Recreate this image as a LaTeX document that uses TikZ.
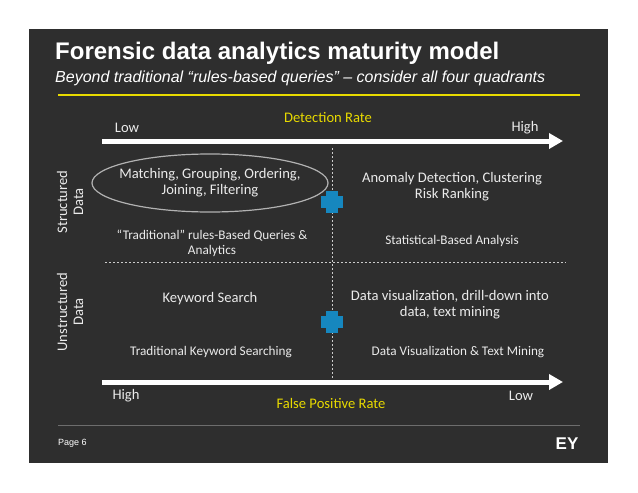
\documentclass[tikz,border=0pt]{standalone}
\usepackage{fontspec}
\setmainfont{Carlito}
\newfontfamily\arial{Liberation Sans}
\usetikzlibrary{arrows.meta}
\definecolor{slide}{HTML}{2E2E2E}
\definecolor{ey}{HTML}{E8DA00}
\definecolor{plusblue}{HTML}{1687BF}
\tikzset{
 body/.style={text=white!92!black,font=\fontsize{14.6}{16}\selectfont,align=center,inner sep=0},
 small/.style={body,font=\fontsize{13.2}{15}\selectfont},
 axis/.style={white,line width=5pt,-{Triangle[length=14pt,width=15pt]}},
}
\begin{document}
\begin{tikzpicture}[x=1pt,y=-1pt]
\useasboundingbox (0,0) rectangle (638,493);
\fill[white] (0,0) rectangle (638,493);
\fill[slide] (29,29) rectangle (608,463);
\node[anchor=west,text=white,font=\arial\bfseries\fontsize{24}{26}\selectfont,inner sep=0] (title) at (55,53) {Forensic data analytics maturity model};
\node[anchor=west,text=white,font=\arial\itshape\fontsize{16}{18}\selectfont,inner sep=0] (sub) at (55,78) {Beyond traditional “rules-based queries” – consider all four quadrants};
\draw[ey,line width=1.5pt] (58,95) -- (580,95);
\node[body,text=ey] (dr) at (328,118) {Detection Rate};
\node[body] (lo1) at (127,128) {Low};
\node[body] (hi1) at (525,128) {High};
\coordinate (a1s) at (102,141); \coordinate (a1e) at (563,141);
\draw[axis] (a1s) -- (a1e);
\coordinate (vt) at (332,148); \coordinate (vb) at (332,378);
\draw[white!80!black,dash pattern=on 2pt off 2pt,line width=0.6pt] (vt) -- (vb);
\coordinate (hl) at (105,262); \coordinate (hr) at (566,262);
\draw[white!80!black,dash pattern=on 2pt off 2pt,line width=0.6pt] (hl) -- (hr);
\draw[white!70!black,line width=1.2pt] (210,183) ellipse [x radius=118, y radius=29];
\node[body] (m) at (210,183) {Matching, Grouping, Ordering,\\Joining, Filtering};
\node[body] (an) at (452,187) {Anomaly Detection, Clustering\\Risk Ranking};
\node[small] (tr) at (212,243) {“Traditional” rules-Based Queries \&\\Analytics};
\node[small] (st) at (452,241) {Statistical-Based Analysis};
\node[body] (kw) at (210,299) {Keyword Search};
\node[body] (dv) at (450,305) {Data visualization, drill-down into\\data, text mining};
\node[small] (tk) at (211,352) {Traditional Keyword Searching};
\node[small] (dvt) at (458,352) {Data Visualization \& Text Mining};
\foreach \y in {202,322}{
 \fill[plusblue] (326,\y-11) rectangle (338,\y+11);
 \fill[plusblue] (321,\y-6) rectangle (343,\y+6);
}
\node[body,rotate=90] (sd) at (70,202) {Structured\\Data};
\node[body,rotate=90] (ud) at (70,312) {Unstructured\\Data};
\coordinate (a2s) at (102,382); \coordinate (a2e) at (563,382);
\draw[axis] (a2s) -- (a2e);
\node[body] (hi2) at (126,396) {High};
\node[body] (lo2) at (521,396) {Low};
\node[body,text=ey] (fp) at (331,403) {False Positive Rate};
\draw[white!30!slide,line width=0.8pt] (58,425) -- (580,425);
\node[anchor=west,text=white,font=\arial\fontsize{9}{10}\selectfont,inner sep=0] (pg) at (58,443) {Page 6};
\node[text=white,font=\arial\bfseries\fontsize{17}{18}\selectfont,inner sep=0] (eyl) at (567,444) {EY};
\end{tikzpicture}
\end{document}
